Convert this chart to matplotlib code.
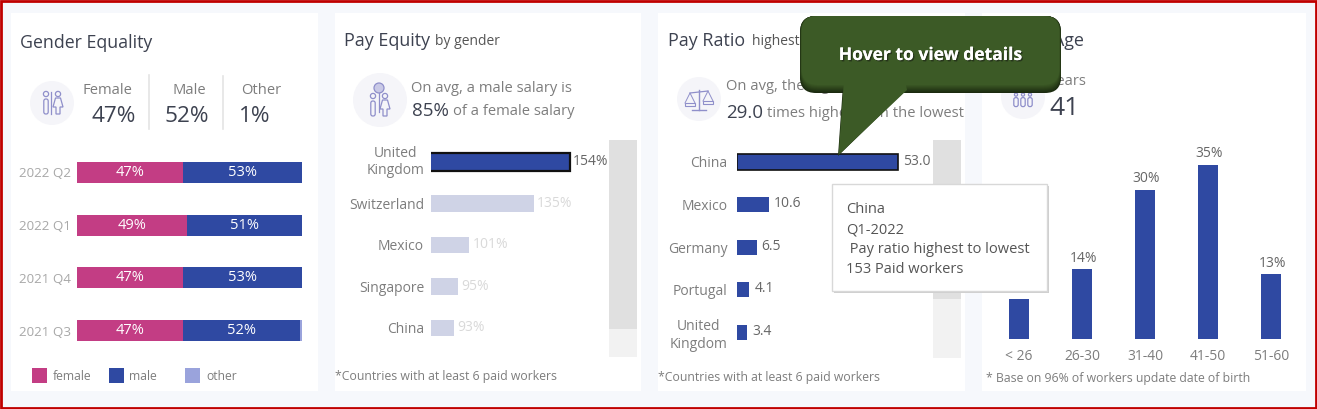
import matplotlib
matplotlib.use('Agg')
import matplotlib.pyplot as plt
import matplotlib.patheffects as pe
from matplotlib.patches import Rectangle, FancyBboxPatch, Circle, Polygon

W, H = 1317, 409

quarters = ['2022 Q2', '2022 Q1', '2021 Q4', '2021 Q3']
female = [47, 49, 47, 47]
male = [53, 51, 53, 52]
other = [0, 0, 0, 1]

equity_countries = ['United\nKingdom', 'Switzerland', 'Mexico', 'Singapore', 'China']
equity_values = [154, 135, 101, 95, 93]

ratio_countries = ['China', 'Mexico', 'Germany', 'Portugal', 'United\nKingdom']
ratio_values = [53.0, 10.6, 6.5, 4.1, 3.4]

age_groups = ['< 26', '26-30', '31-40', '41-50', '51-60']
age_values = [8, 14, 30, 35, 13]

tooltip_lines = ['China', 'Q1-2022', ' Pay ratio highest to lowest', '153 Paid workers']

PINK = '#c33d84'
BLUE = '#2f49a2'
LILAC = '#9aa3dc'
PALE = '#cfd3e6'
DARK = '#3d4250'
GREY = '#7d7d7d'
SOFT = '#a8a8a8'
ICON = '#8f8fca'

plt.rcParams['font.family'] = ['Open Sans', 'DejaVu Sans']


def px_axes(fig, left, top, right, bottom, z=2):
    ax = fig.add_axes([left / W, 1 - bottom / H, (right - left) / W, (bottom - top) / H], zorder=z)
    ax.patch.set_alpha(0)
    for s in ax.spines.values():
        s.set_visible(False)
    return ax


def canvas(fig, z):
    ax = px_axes(fig, 0, 0, W, H, z)
    ax.set_xlim(0, W)
    ax.set_ylim(H, 0)
    ax.axis('off')
    return ax


def label(ax, x, y, s, size=10.6, color=GREY, **kw):
    # centred text in this font sits a little high, nudge it down
    ax.text(x, y + 1.5, s, fontsize=size, color=color, va='center', **kw)


def person(ax, x, y, skirt=False, scale=1.0):
    # small outlined figure: head plus body
    ax.add_patch(Circle((x, y - 9 * scale), 2.6 * scale, fc='none', ec=ICON, lw=0.9))
    if skirt:
        ax.add_patch(Polygon([(x - 2.5, y - 5), (x + 2.5, y - 5), (x + 5, y + 4), (x + 2, y + 4),
                              (x + 2, y + 11), (x - 2, y + 11), (x - 2, y + 4), (x - 5, y + 4)],
                             fc='none', ec=ICON, lw=0.9))
    else:
        ax.add_patch(FancyBboxPatch((x - 2.2, y - 4 * scale), 4.4, 15 * scale,
                                    boxstyle='round,pad=0,rounding_size=2',
                                    fc='none', ec=ICON, lw=0.9))


def draw_icons(ax):
    # gender
    ax.add_patch(Circle((52, 103), 22, fc='#f5f5f9', ec='none'))
    person(ax, 46, 103)
    person(ax, 58, 103, skirt=True)
    ax.plot([51, 51], [92, 114], color=ICON, lw=0.9)
    # pay equity
    ax.add_patch(Circle((380, 100), 27, fc='#f5f5f9', ec='none'))
    ax.add_patch(Circle((379, 88), 5, fc='#c9c9e6', ec=ICON, lw=0.9))
    person(ax, 373, 105)
    person(ax, 385, 105, skirt=True)
    ax.plot([379, 379], [93, 112], color=ICON, lw=0.9)
    # scales
    ax.add_patch(Circle((699, 99), 22, fc='#f5f5f9', ec='none'))
    ax.plot([699, 699], [90, 110], color=ICON, lw=1)
    ax.plot([692, 706], [110, 110], color=ICON, lw=1)
    ax.plot([690, 708], [93, 91], color=ICON, lw=0.9)
    for cx, cy in [(690, 103), (708, 101)]:
        ax.plot([cx - 5, cx, cx + 5], [cy, cy - 10, cy], color=ICON, lw=0.7)
        ax.add_patch(Rectangle((cx - 5, cy), 10, 3, fc='none', ec=ICON, lw=0.8))
    # age
    ax.add_patch(Circle((1023, 97), 22, fc='#f5f5f9', ec='none'))
    for px in [1016, 1023, 1030]:
        person(ax, px, 100, scale=0.6)


def style_axis(ax):
    ax.tick_params(length=0)
    ax.set_xticks([])


def gender_chart(ax):
    ypos = list(range(len(quarters)))
    ax.barh(ypos, female, 0.4, color=PINK)
    ax.barh(ypos, male, 0.4, left=female, color=BLUE)
    ax.barh(ypos, other, 0.4, left=[f + m for f, m in zip(female, male)], color=LILAC)
    for i in ypos:
        ax.text(female[i] / 2, i, f'{female[i]}%', color='white', fontsize=10.5, ha='center', va='center')
        ax.text(female[i] + male[i] / 2, i, f'{male[i]}%', color='white', fontsize=10.5, ha='center', va='center')
    style_axis(ax)
    ax.set_xlim(0, 100)
    ax.set_ylim(3.5, -0.5)
    ax.set_yticks(ypos, quarters, color=SOFT, fontsize=9.6)
    ax.tick_params(axis='y', pad=4.5)


def equity_chart(ax):
    ypos = list(range(len(equity_values)))
    for i, v in enumerate(equity_values):
        if i == 0:
            ax.barh(i, v, 0.42, color=BLUE, edgecolor='#111111', lw=1.6, zorder=3)
            ax.text(v + 1.5, i, f'{v}%', color='#666666', fontsize=10, va='center', clip_on=False)
        else:
            ax.barh(i, v, 0.39, color=PALE)
            ax.text(v + 1.8, i, f'{v}%', color='#d9d9d9', fontsize=10, va='center')
    style_axis(ax)
    ax.set_xlim(81, 81 + 174 / 1.9)
    ax.set_ylim(4.7, -0.53)
    ax.set_yticks(ypos, equity_countries, color=GREY, fontsize=10, multialignment='center', linespacing=1.25)
    # two-line label sits a touch higher than the others
    ax.get_yticklabels()[0].set_va('center')
    ax.tick_params(axis='y', pad=5)


def ratio_chart(ax):
    ypos = list(range(len(ratio_values)))
    for i, v in enumerate(ratio_values):
        if i == 0:
            ax.barh(i, v, 0.36, color=BLUE, edgecolor='#111111', lw=1.2, zorder=3)
        else:
            ax.barh(i, v, 0.36, color=BLUE)
        ax.text(v + 1.6, i - 0.02, f'{v:.1f}', color='#666666', fontsize=10, va='center')
    style_axis(ax)
    ax.set_xlim(0, 190 / 3.04)
    ax.set_ylim(4.6, -0.516)
    ax.set_yticks(ypos, ratio_countries, color=GREY, fontsize=10, multialignment='center', linespacing=1.25)
    ax.tick_params(axis='y', pad=7)


def age_chart(ax):
    xpos = list(range(len(age_values)))
    ax.bar(xpos, age_values, 0.31, color=BLUE)
    for i, v in enumerate(age_values):
        ax.text(i + 0.02, v + 0.7, f'{v}%', color='#666666', fontsize=10, ha='center', va='bottom')
    ax.set_xlim(-0.46, 4.46)
    ax.set_ylim(0, 40)
    ax.set_yticks([])
    ax.set_xticks(xpos, age_groups, color=GREY, fontsize=10)
    ax.tick_params(length=0, pad=7)


def mix(c1, c2, t):
    a = matplotlib.colors.to_rgb(c1)
    b = matplotlib.colors.to_rgb(c2)
    return tuple(p + (q - p) * t for p, q in zip(a, b))


def overlays(ax):
    # tooltip box with a soft shadow
    ax.add_patch(Rectangle((834, 186), 215, 107, fc='#cfcfcf', ec='none'))
    ax.add_patch(Rectangle((832, 184), 215, 107, fc='white', ec='#d8d8d8', lw=1))
    for n, line in enumerate(tooltip_lines):
        label(ax, 846, 208 + 20 * n, line, size=10.5, color='#555555')

    # callout, dark bevel along the bottom fading into the fill
    green = '#3c5a26'
    shade = '#1b2a0f'
    steps = 9
    ax.add_patch(Polygon([(843, 85), (838, 156), (911, 85)], fc=shade, ec='none'))
    for n in range(steps):
        t = n / (steps - 1)
        ax.add_patch(FancyBboxPatch((800 + n * 0.2, 16), 261 - n * 0.4, 77 - n,
                                    boxstyle='round,pad=0,rounding_size=16',
                                    fc=mix(shade, green, t), ec='none'))
    ax.add_patch(Polygon([(844, 80), (838.5, 155), (907, 90), (905, 80)], fc=green, ec='none'))
    txt = ax.text(930.5, 55, 'Hover to view details', color='white', fontsize=12.6, fontweight='bold',
                  ha='center', va='center')
    txt.set_path_effects([pe.withSimplePatchShadow(offset=(1, -1), shadow_rgbFace='#111111', alpha=0.5),
                          pe.Normal()])


def main():
    fig = plt.figure(figsize=(W / 100, H / 100), dpi=100, facecolor='#f6f8fc')
    bg = canvas(fig, 0)

    for x0, x1 in [(11, 318), (335, 641), (658, 965), (982, 1306)]:
        bg.add_patch(Rectangle((x0, 13), x1 - x0, 378, fc='white', ec='none'))
    draw_icons(bg)

    # Gender Equality header
    label(bg, 20, 41, 'Gender Equality', size=12.8, color=DARK)
    label(bg, 107, 89, 'Female', ha='center')
    label(bg, 113.5, 115, '47%', size=16.2, color=DARK, ha='center')
    label(bg, 189.5, 89, 'Male', ha='center')
    label(bg, 187, 115, '52%', size=16.2, color=DARK, ha='center')
    label(bg, 261.5, 89, 'Other', ha='center')
    label(bg, 255, 115, '1%', size=16.2, color=DARK, ha='center')
    bg.plot([149, 149], [75, 129], color='#e4e4e4', lw=1.2)
    bg.plot([223, 223], [76, 129], color='#e4e4e4', lw=1.2)
    for x, name, c in [(32, 'female', PINK), (108.5, 'male', BLUE), (185, 'other', LILAC)]:
        bg.add_patch(Rectangle((x, 368), 15, 15, fc=c, ec='none'))
        label(bg, x + 21, 375, name, size=8.7)

    # Pay Equity header
    label(bg, 344, 39, 'Pay Equity', size=12.9, color=DARK)
    label(bg, 435, 40, 'by gender', size=10, color='#555555')
    label(bg, 411, 87, 'On avg, a male salary is')
    label(bg, 412, 110, '85%', size=13.5, color=DARK)
    label(bg, 453, 110, 'of a female salary')
    label(bg, 335, 375, '*Countries with at least 6 paid workers', size=8.8)
    bg.add_patch(Rectangle((609, 140), 28, 189, fc='#e0e0e0', ec='none'))
    bg.add_patch(Rectangle((609, 329), 28, 28, fc='#f2f2f2', ec='none'))

    # Pay Ratio header
    label(bg, 668, 39, 'Pay Ratio', size=12.9, color=DARK)
    label(bg, 752, 40, 'highest to lowest', size=10, color='#555555')
    label(bg, 726, 85, 'On avg, the highest salary is')
    label(bg, 726, 112, '29.0', size=13.5, color=DARK)
    label(bg, 767, 112, 'times higher than the lowest')
    label(bg, 658, 376, '*Countries with at least 6 paid workers', size=8.8)
    bg.add_patch(Rectangle((933, 140), 28, 159, fc='#e0e0e0', ec='none'))
    bg.add_patch(Rectangle((933, 299), 28, 59, fc='#f2f2f2', ec='none'))

    # Workers Age header
    label(bg, 1084, 39, 'Age', size=12.9, color=DARK, ha='right')
    label(bg, 1087, 80, 'years', ha='right')
    label(bg, 1049, 107, '41', size=19, color=DARK)
    label(bg, 986, 377, '* Base on 96% of workers update date of birth', size=8.8)

    gender_chart(px_axes(fig, 77, 146, 302, 357))
    equity_chart(px_axes(fig, 431, 140, 605, 357))
    ratio_chart(px_axes(fig, 737, 140, 927, 358))
    age_chart(px_axes(fig, 990, 140, 1300, 339))

    top = canvas(fig, 5)
    overlays(top)
    # outer red frame
    top.add_patch(Rectangle((1, 1), W - 2, H - 2, fc='none', ec='#c00000', lw=2))

    fig.savefig('out.png', dpi=100, facecolor=fig.get_facecolor())


if __name__ == '__main__':
    main()
